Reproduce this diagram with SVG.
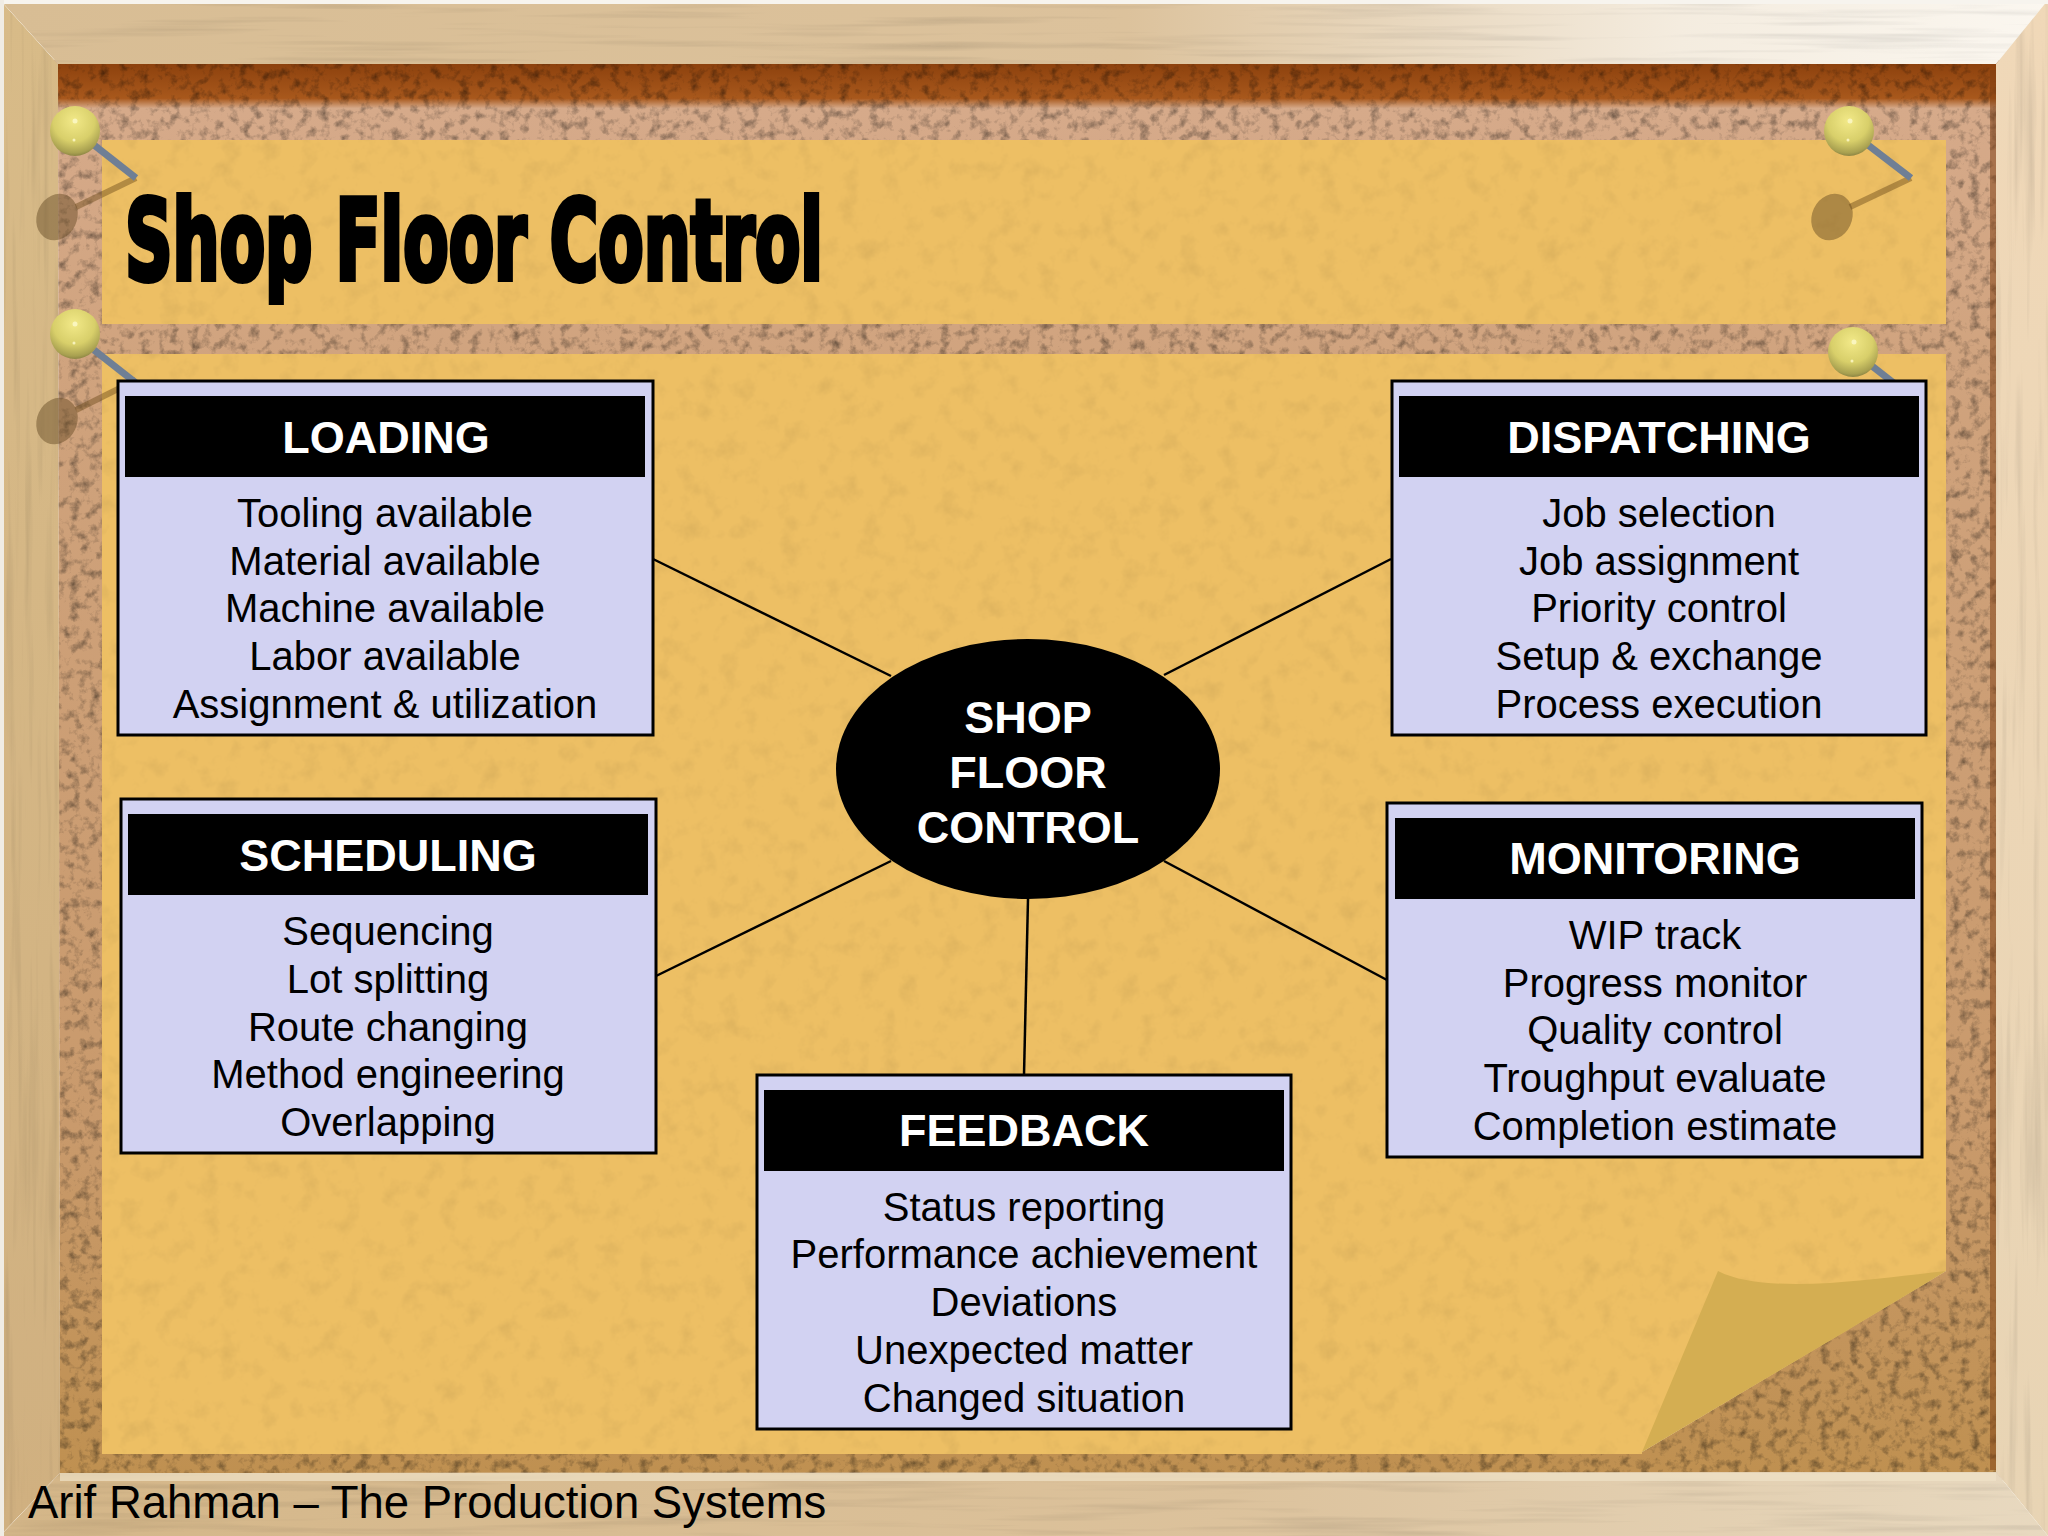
<svg xmlns="http://www.w3.org/2000/svg" width="2048" height="1536" viewBox="0 0 2048 1536">
<style>
.box{fill:#d2d2f2;stroke:#000;stroke-width:3}
.hd{fill:#000}
.ht{font:bold 45px "Liberation Sans",Arial,sans-serif;fill:#fff;text-anchor:middle}
.bt{font:40px "Liberation Sans",Arial,sans-serif;fill:#000;text-anchor:middle}
.ct{font:bold 45px "Liberation Sans",Arial,sans-serif;fill:#fff;text-anchor:middle}
.cn{stroke:#000;stroke-width:2.5;fill:none}
.needle{stroke:#6f7f95;stroke-width:7;fill:none}
.shl{stroke:#6a4a18;stroke-opacity:.45;stroke-width:6;fill:none}
.she{fill:#5f4420;fill-opacity:.45}
.head{fill:url(#pin)}
.hl{fill:#fbf8c8;fill-opacity:.85}
</style>
<defs>
<filter id="cork" x="0" y="0" width="100%" height="100%" color-interpolation-filters="sRGB">
<feTurbulence type="fractalNoise" baseFrequency="0.1" numOctaves="4" seed="4" result="n"/>
<feColorMatrix in="n" type="matrix" values=".95 0 0 0 .5 .95 0 0 0 .5 .95 0 0 0 .5 0 0 0 0 1" result="g"/>
<feBlend in="SourceGraphic" in2="g" mode="multiply" result="b"/>
<feComposite in="b" in2="SourceAlpha" operator="in"/>
</filter>
<filter id="paper" x="0" y="0" width="100%" height="100%" color-interpolation-filters="sRGB">
<feTurbulence type="fractalNoise" baseFrequency="0.05" numOctaves="4" seed="9" result="n"/>
<feColorMatrix in="n" type="matrix" values=".14 0 0 0 .93 .14 0 0 0 .93 .14 0 0 0 .93 0 0 0 0 1" result="g"/>
<feBlend in="SourceGraphic" in2="g" mode="multiply" result="b"/>
<feComposite in="b" in2="SourceAlpha" operator="in"/>
</filter>
<filter id="grainH" x="0" y="0" width="100%" height="100%" color-interpolation-filters="sRGB">
<feTurbulence type="fractalNoise" baseFrequency="0.004 0.12" numOctaves="3" seed="3" result="n"/>
<feColorMatrix in="n" type="matrix" values=".24 0 0 0 .88 .24 0 0 0 .88 .24 0 0 0 .88 0 0 0 0 1" result="g"/>
<feBlend in="SourceGraphic" in2="g" mode="multiply" result="b"/>
<feComposite in="b" in2="SourceAlpha" operator="in"/>
</filter>
<filter id="grainV" x="0" y="0" width="100%" height="100%" color-interpolation-filters="sRGB">
<feTurbulence type="fractalNoise" baseFrequency="0.12 0.004" numOctaves="3" seed="7" result="n"/>
<feColorMatrix in="n" type="matrix" values=".24 0 0 0 .88 .24 0 0 0 .88 .24 0 0 0 .88 0 0 0 0 1" result="g"/>
<feBlend in="SourceGraphic" in2="g" mode="multiply" result="b"/>
<feComposite in="b" in2="SourceAlpha" operator="in"/>
</filter>
<linearGradient id="woodTop" x1="0" x2="1" y1="0" y2="0"><stop offset="0" stop-color="#d8bd94"/><stop offset=".55" stop-color="#dcc29c"/><stop offset=".82" stop-color="#f4ecdf"/><stop offset="1" stop-color="#fbf7f0"/></linearGradient>
<linearGradient id="woodBot" x1="0" x2="1" y1="0" y2="0"><stop offset="0" stop-color="#d4b688"/><stop offset=".6" stop-color="#dcc29c"/><stop offset="1" stop-color="#e8d9c0"/></linearGradient>
<linearGradient id="woodL" x1="0" x2="0" y1="0" y2="1"><stop offset="0" stop-color="#d8bb88"/><stop offset="1" stop-color="#d0b080"/></linearGradient>
<linearGradient id="woodR" x1="0" x2="0" y1="0" y2="1"><stop offset="0" stop-color="#f0d8b8"/><stop offset="1" stop-color="#e8d4b4"/></linearGradient>
<linearGradient id="corkV" x1="0" x2="0" y1="0" y2="1"><stop offset="0" stop-color="#8a3f0c"/><stop offset=".027" stop-color="#a8581c"/><stop offset=".034" stop-color="#d6aa8a"/><stop offset=".25" stop-color="#cfa27c"/><stop offset=".75" stop-color="#c99a6c"/><stop offset="1" stop-color="#bf9050"/></linearGradient>
<radialGradient id="pin" cx=".48" cy=".3" r=".75"><stop offset="0" stop-color="#f2e988"/><stop offset=".55" stop-color="#d8cf6a"/><stop offset=".85" stop-color="#a8a050"/><stop offset="1" stop-color="#77703a"/></radialGradient>
</defs>
<g id="board">
<rect x="0" y="0" width="2048" height="1536" fill="#e6d2b0"/>
<rect x="50" y="60" width="1955" height="1420" fill="url(#corkV)" filter="url(#cork)"/>
<rect x="1990" y="70" width="6" height="1400" fill="#7c3c10" fill-opacity=".5"/>
<polygon points="0,0 2048,0 1996,64 58,64" fill="url(#woodTop)" filter="url(#grainH)"/>
<polygon points="0,0 58,64 60,1473 0,1536" fill="url(#woodL)" filter="url(#grainV)"/>
<polygon points="2048,0 1996,64 1996,1472 2048,1536" fill="url(#woodR)" filter="url(#grainV)"/>
<polygon points="0,1536 60,1473 1996,1472 2048,1536" fill="url(#woodBot)" filter="url(#grainH)"/>
<rect x="60" y="1473" width="1936" height="8" fill="#f0e2c8" fill-opacity=".7"/>
<rect x="0" y="0" width="2048" height="4" fill="#f7f4ee"/>
<rect x="0" y="0" width="4" height="1536" fill="#f0ece4"/>
<rect x="102" y="140" width="1844" height="184" fill="#edbf64" filter="url(#paper)"/>
<path d="M102,354H1946V1271L1642,1452V1454H102Z" fill="#edbf64" filter="url(#paper)"/>
<path d="M1642,1452L1718,1271C1745,1285 1790,1285 1830,1283C1870,1280 1910,1275 1946,1271C1850,1330 1745,1390 1642,1452Z" fill="#d4ae52"/>
<text x="125" y="279" font-family="DejaVu Sans,Liberation Sans,Arial,sans-serif" font-weight="bold" font-size="110" fill="#000" stroke="#000" stroke-width="6" textLength="698" lengthAdjust="spacingAndGlyphs">Shop Floor Control</text>
</g>
<g id="pins">
<g id="pin1"><ellipse class="she" cx="57" cy="217" rx="20" ry="24" transform="rotate(25 57 217)"/><path class="shl" d="M136,178L76,207"/><path class="needle" d="M94,145L136,178"/><circle class="head" cx="75" cy="131" r="25"/><circle class="hl" cx="75" cy="121" r="2.5"/><circle class="hl" cx="74" cy="140" r="1.5"/></g>
<g id="pin2"><ellipse class="she" cx="1832" cy="217" rx="20" ry="24" transform="rotate(25 1832 217)"/><path class="shl" d="M1911,178L1850,207"/><path class="needle" d="M1868,145L1911,178"/><circle class="head" cx="1849" cy="131" r="25"/><circle class="hl" cx="1850" cy="121" r="2.5"/><circle class="hl" cx="1848" cy="140" r="1.5"/></g>
<g id="pin3"><ellipse class="she" cx="57" cy="421" rx="20" ry="24" transform="rotate(25 57 421)"/><path class="shl" d="M136,380L76,410"/><path class="needle" d="M94,350L136,383"/><circle class="head" cx="75" cy="334" r="25"/><circle class="hl" cx="75" cy="324" r="2.5"/><circle class="hl" cx="74" cy="343" r="1.5"/></g>
<g id="pin4"><path class="needle" d="M1872,366L1895,384"/><circle class="head" cx="1853" cy="352" r="25"/><circle class="hl" cx="1854" cy="342" r="2.5"/><circle class="hl" cx="1852" cy="361" r="1.5"/></g>
</g>
<g id="connectors">
<path class="cn" d="M653,559L891,676"/>
<path class="cn" d="M1391,559L1164,675"/>
<path class="cn" d="M656,976L891,861"/>
<path class="cn" d="M1387,980L1164,861"/>
<path class="cn" d="M1028,899L1024,1075"/>
</g>
<g id="center">
<ellipse cx="1028" cy="769" rx="192" ry="130" fill="#000"/>
<text class="ct" x="1028" y="733">SHOP</text>
<text class="ct" x="1028" y="788">FLOOR</text>
<text class="ct" x="1028" y="843">CONTROL</text>
</g>
<g id="loading">
<rect class="box" x="118" y="381" width="535" height="354"/><rect class="hd" x="125" y="396" width="520" height="81"/>
<text class="ht" x="386" y="453">LOADING</text>
<text class="bt" x="385" y="527">Tooling available</text><text class="bt" x="385" y="574.5">Material available</text><text class="bt" x="385" y="622">Machine available</text><text class="bt" x="385" y="670">Labor available</text><text class="bt" x="385" y="718">Assignment &amp; utilization</text>
</g>
<g id="dispatching">
<rect class="box" x="1392" y="381" width="534" height="354"/><rect class="hd" x="1399" y="396" width="520" height="81"/>
<text class="ht" x="1659" y="453">DISPATCHING</text>
<text class="bt" x="1659" y="527">Job selection</text><text class="bt" x="1659" y="574.5">Job assignment</text><text class="bt" x="1659" y="622">Priority control</text><text class="bt" x="1659" y="670">Setup &amp; exchange</text><text class="bt" x="1659" y="718">Process execution</text>
</g>
<g id="scheduling">
<rect class="box" x="121" y="799" width="535" height="354"/><rect class="hd" x="128" y="814" width="520" height="81"/>
<text class="ht" x="388" y="870.5">SCHEDULING</text>
<text class="bt" x="388" y="945">Sequencing</text><text class="bt" x="388" y="992.5">Lot splitting</text><text class="bt" x="388" y="1040.5">Route changing</text><text class="bt" x="388" y="1088">Method engineering</text><text class="bt" x="388" y="1136">Overlapping</text>
</g>
<g id="monitoring">
<rect class="box" x="1387" y="803" width="535" height="354"/><rect class="hd" x="1395" y="818" width="520" height="81"/>
<text class="ht" x="1655" y="874">MONITORING</text>
<text class="bt" x="1655" y="949">WIP track</text><text class="bt" x="1655" y="996.5">Progress monitor</text><text class="bt" x="1655" y="1044">Quality control</text><text class="bt" x="1655" y="1092">Troughput evaluate</text><text class="bt" x="1655" y="1140">Completion estimate</text>
</g>
<g id="feedback">
<rect class="box" x="757" y="1075" width="534" height="354"/><rect class="hd" x="764" y="1090" width="520" height="81"/>
<text class="ht" x="1024" y="1146">FEEDBACK</text>
<text class="bt" x="1024" y="1221">Status reporting</text><text class="bt" x="1024" y="1268">Performance achievement</text><text class="bt" x="1024" y="1316">Deviations</text><text class="bt" x="1024" y="1364">Unexpected matter</text><text class="bt" x="1024" y="1412">Changed situation</text>
</g>
<text x="28" y="1518" font-family="Liberation Sans,Arial,sans-serif" font-size="45.5" fill="#000">Arif Rahman – The Production Systems</text>
</svg>
